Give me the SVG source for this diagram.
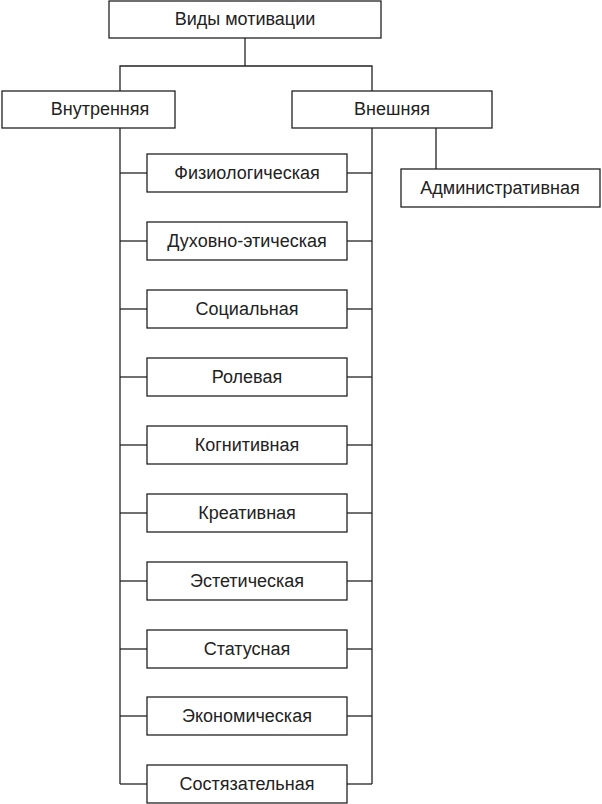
<svg xmlns="http://www.w3.org/2000/svg" width="602" height="804" viewBox="0 0 602 804">
<style>
rect{fill:#fff;stroke:#222;stroke-width:1.3}
line,polyline{stroke:#222;stroke-width:1.3;fill:none}
text{font-family:"Liberation Sans",Arial,sans-serif;font-size:18px;fill:#222;text-anchor:middle;dominant-baseline:central}
</style>
<rect width="602" height="804" style="stroke:none"/>
<g id="connectors">
<line x1="245" y1="38" x2="245" y2="66"/>
<polyline points="120,91 120,66 372,66 372,91"/>
<line x1="436" y1="128" x2="436" y2="169"/>
<line x1="120" y1="128" x2="120" y2="784"/>
<line x1="372" y1="128" x2="372" y2="784"/>
<g id="ticks">
<line x1="120" y1="173" x2="147" y2="173"/><line x1="347" y1="173" x2="372" y2="173"/>
<line x1="120" y1="241" x2="147" y2="241"/><line x1="347" y1="241" x2="372" y2="241"/>
<line x1="120" y1="309" x2="147" y2="309"/><line x1="347" y1="309" x2="372" y2="309"/>
<line x1="120" y1="377" x2="147" y2="377"/><line x1="347" y1="377" x2="372" y2="377"/>
<line x1="120" y1="445" x2="147" y2="445"/><line x1="347" y1="445" x2="372" y2="445"/>
<line x1="120" y1="513" x2="147" y2="513"/><line x1="347" y1="513" x2="372" y2="513"/>
<line x1="120" y1="581" x2="147" y2="581"/><line x1="347" y1="581" x2="372" y2="581"/>
<line x1="120" y1="649" x2="147" y2="649"/><line x1="347" y1="649" x2="372" y2="649"/>
<line x1="120" y1="716" x2="147" y2="716"/><line x1="347" y1="716" x2="372" y2="716"/>
<line x1="120" y1="784" x2="147" y2="784"/><line x1="347" y1="784" x2="372" y2="784"/>
</g>
</g>
<g id="root"><rect x="109" y="1" width="272" height="37"/><text x="245" y="19">Виды мотивации</text></g>
<g id="inner"><rect x="2" y="91" width="173" height="37"/><text x="100" y="109">Внутренняя</text></g>
<g id="outer"><rect x="292" y="91" width="200" height="37"/><text x="392" y="109">Внешняя</text></g>
<g id="admin"><rect x="401" y="169" width="199" height="38"/><text x="500" y="188">Административная</text></g>
<g id="n1"><rect x="147" y="154" width="200" height="38"/><text x="247" y="173">Физиологическая</text></g>
<g id="n2"><rect x="147" y="222" width="200" height="38"/><text x="247" y="241">Духовно-этическая</text></g>
<g id="n3"><rect x="147" y="290" width="200" height="38"/><text x="247" y="309">Социальная</text></g>
<g id="n4"><rect x="147" y="358" width="200" height="38"/><text x="247" y="377">Ролевая</text></g>
<g id="n5"><rect x="147" y="426" width="200" height="38"/><text x="247" y="445">Когнитивная</text></g>
<g id="n6"><rect x="147" y="494" width="200" height="38"/><text x="247" y="513">Креативная</text></g>
<g id="n7"><rect x="147" y="562" width="200" height="38"/><text x="247" y="581">Эстетическая</text></g>
<g id="n8"><rect x="147" y="630" width="200" height="38"/><text x="247" y="649">Статусная</text></g>
<g id="n9"><rect x="147" y="697" width="200" height="38"/><text x="247" y="716">Экономическая</text></g>
<g id="n10"><rect x="147" y="765" width="200" height="38"/><text x="247" y="784">Состязательная</text></g>
</svg>
